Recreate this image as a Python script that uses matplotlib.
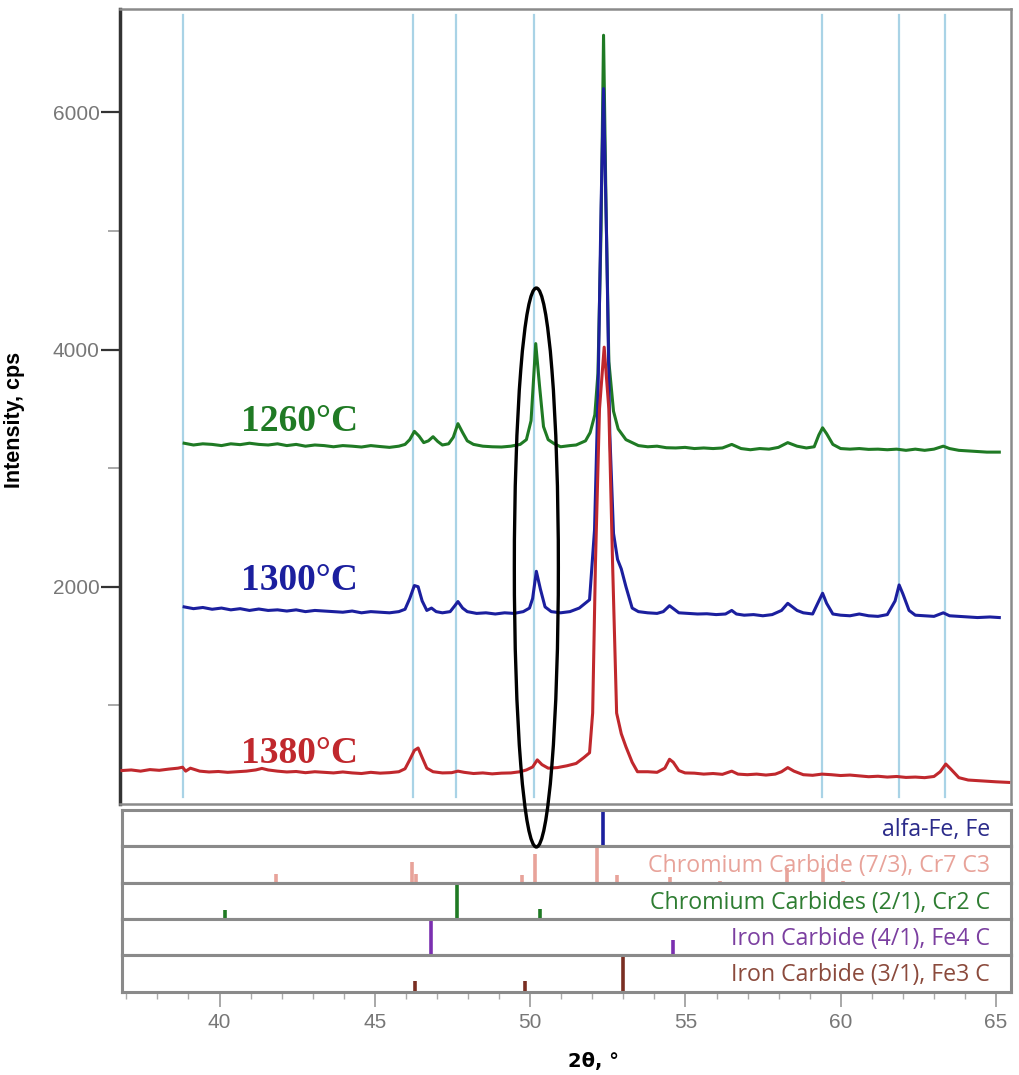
import matplotlib.pyplot as plt
from matplotlib.patches import Ellipse
from matplotlib.ticker import MultipleLocator

# --- measured XRD patterns (2theta in degrees, intensity in cps) ---
x_1260 = [38.9, 39.2, 39.5, 39.8, 40.1, 40.4, 40.7, 41.0, 41.3, 41.6, 41.9, 42.2, 42.5, 42.8,
          43.1, 43.4, 43.7, 44.0, 44.3, 44.6, 44.9, 45.2, 45.5, 45.8, 46.0, 46.15, 46.3, 46.45,
          46.6, 46.75, 46.9, 47.05, 47.2, 47.4, 47.55, 47.7, 47.85, 48.0, 48.2, 48.5, 48.8, 49.1,
          49.4, 49.7, 49.9, 50.05, 50.2, 50.32, 50.45, 50.6, 50.8, 51.0, 51.3, 51.5, 51.8, 51.95,
          52.1, 52.2, 52.3, 52.38, 52.46, 52.55, 52.7, 52.85, 53.1, 53.5, 53.8, 54.1, 54.4, 54.7,
          55.0, 55.3, 55.6, 55.9, 56.2, 56.5, 56.8, 57.1, 57.4, 57.7, 58.0, 58.3, 58.6, 58.9,
          59.15, 59.3, 59.42, 59.55, 59.75, 60.0, 60.3, 60.6, 60.9, 61.2, 61.5, 61.8, 62.1,
          62.4, 62.7, 63.0, 63.3, 63.5, 63.8, 64.1, 64.4, 64.7, 65.1]
y_1260 = [3210, 3195, 3205, 3200, 3190, 3205, 3198, 3210, 3200, 3195, 3205, 3190, 3200, 3185,
          3195, 3190, 3180, 3190, 3185, 3178, 3190, 3182, 3175, 3185, 3200, 3240, 3310, 3270,
          3215, 3230, 3265, 3225, 3195, 3205, 3260, 3375, 3300, 3230, 3200, 3185, 3180, 3178,
          3185, 3200, 3240, 3400, 4050, 3700, 3350, 3240, 3205, 3180, 3190, 3195, 3230, 3300,
          3450, 3800, 5000, 6650, 5200, 3900, 3480, 3330, 3240, 3190, 3180, 3185, 3172, 3170,
          3175, 3165, 3170, 3165, 3170, 3200, 3165, 3155, 3165, 3160, 3175, 3215, 3185, 3170,
          3180, 3280, 3340, 3290, 3200, 3165, 3160, 3165, 3158, 3160, 3155, 3160, 3150,
          3160, 3150, 3160, 3185, 3165, 3150, 3145, 3140, 3135, 3135]

x_1300 = [38.9, 39.2, 39.5, 39.8, 40.1, 40.4, 40.7, 41.0, 41.3, 41.6, 41.9, 42.2, 42.5, 42.8,
          43.1, 43.4, 43.7, 44.0, 44.3, 44.6, 44.9, 45.2, 45.5, 45.8, 46.0, 46.15, 46.3, 46.42,
          46.55, 46.7, 46.85, 47.0, 47.2, 47.45, 47.6, 47.7, 47.85, 48.0, 48.3, 48.6, 48.9, 49.2,
          49.5, 49.8, 50.0, 50.1, 50.22, 50.35, 50.5, 50.7, 51.0, 51.3, 51.6, 51.93, 52.09,
          52.2, 52.3, 52.38, 52.48, 52.58, 52.7, 52.83, 52.95, 53.1, 53.3, 53.5, 53.8, 54.1,
          54.3, 54.5, 54.65, 54.8, 55.1, 55.4, 55.7, 56.0, 56.3, 56.5, 56.65, 56.9, 57.2, 57.5,
          57.8, 58.1, 58.3, 58.45, 58.6, 58.8, 59.1, 59.3, 59.42, 59.55, 59.75, 60.0, 60.3,
          60.6, 60.9, 61.2, 61.5, 61.75, 61.88, 62.0, 62.2, 62.4, 62.7, 63.0, 63.3, 63.5, 63.8,
          64.1, 64.4, 64.8, 65.1]
y_1300 = [1830, 1815, 1825, 1810, 1820, 1805, 1815, 1800, 1812, 1800, 1805, 1795, 1805, 1790,
          1800, 1795, 1790, 1785, 1795, 1780, 1790, 1785, 1780, 1790, 1810, 1900, 2010, 2000,
          1880, 1800, 1820, 1790, 1780, 1790, 1840, 1875, 1820, 1790, 1775, 1780, 1770, 1780,
          1775, 1790, 1820, 1900, 2130, 1980, 1830, 1790, 1780, 1790, 1820, 1890, 2480,
          3600, 5200, 6200, 4900, 3300, 2450, 2230, 2150, 2000, 1820, 1790, 1780, 1775,
          1790, 1840, 1810, 1780, 1775, 1770, 1772, 1765, 1770, 1800, 1770, 1760, 1765, 1755,
          1765, 1800, 1860, 1830, 1800, 1780, 1770, 1880, 1945, 1860, 1770, 1760, 1755,
          1770, 1755, 1750, 1765, 1880, 2015, 1940, 1800, 1760, 1755, 1750, 1780, 1755, 1750,
          1745, 1740, 1745, 1740]

x_1380 = [36.9, 37.2, 37.5, 37.8, 38.1, 38.4, 38.7, 38.85, 38.95, 39.1, 39.4, 39.7, 40.0, 40.3,
          40.6, 40.9, 41.2, 41.4, 41.6, 41.9, 42.2, 42.5, 42.8, 43.1, 43.4, 43.7, 44.0, 44.3,
          44.6, 44.9, 45.2, 45.5, 45.8, 46.0, 46.15, 46.3, 46.42, 46.55, 46.7, 46.9, 47.2, 47.5,
          47.7, 47.9, 48.2, 48.5, 48.8, 49.1, 49.4, 49.7, 49.9, 50.1, 50.25, 50.4, 50.6, 50.9,
          51.2, 51.5, 51.75, 51.93, 52.03, 52.12, 52.25, 52.4, 52.55, 52.67, 52.8, 52.95, 53.1,
          53.3, 53.47, 53.8, 54.1, 54.35, 54.5, 54.62, 54.8, 55.0, 55.3, 55.6, 55.9, 56.2, 56.5,
          56.7, 57.0, 57.3, 57.6, 57.9, 58.1, 58.3, 58.5, 58.8, 59.1, 59.4, 59.7, 60.0, 60.3,
          60.6, 60.9, 61.2, 61.5, 61.8, 62.1, 62.4, 62.7, 63.0, 63.2, 63.38, 63.55, 63.8, 64.1,
          64.4, 64.7, 65.0, 65.4]
y_1380 = [450, 455, 445, 458, 452, 462, 470, 478, 445, 470, 445, 438, 442, 435,
          440, 445, 455, 468, 455, 445, 438, 442, 432, 440, 435, 430, 438, 430,
          425, 435, 428, 432, 440, 465, 540, 620, 640, 560, 470, 440, 430, 432,
          445, 435, 425, 430, 422, 428, 430, 440, 455, 480, 540, 500, 470, 475,
          490, 510, 560, 600, 935, 2200, 3500, 4020, 3500, 2200, 935, 760, 650,
          520, 440, 440, 435, 470, 545, 520, 450, 430, 428, 420, 425, 418, 445,
          420, 415, 420, 412, 420, 440, 475, 445, 415, 410, 420, 415, 408, 412,
          405, 398, 402, 395, 400, 392, 395, 390, 400, 440, 505, 460, 390, 370,
          365, 360, 355, 350]

series_labels = ['1260\u00b0C', '1300\u00b0C', '1380\u00b0C']
series_colors = ['#1f7a24', '#1b1f9e', '#c0282d']
label_y = [3389, 2056, 597]

# light blue marker lines (2theta)
marker_lines = [38.87, 46.27, 47.65, 50.16, 59.39, 61.86, 63.34]

# reference patterns: positions and relative heights
phase_names = ['alfa-Fe, Fe', 'Chromium Carbide (7/3), Cr7 C3',
               'Chromium Carbides (2/1), Cr2 C', 'Iron Carbide (4/1), Fe4 C',
               'Iron Carbide (3/1), Fe3 C']
phase_text_colors = ['#2b2b8a', '#e8a39a', '#2e7d32', '#7b3fa0', '#8b4a3c']
phase_stick_colors = ['#1b1f9e', '#e8a39a', '#1f7a24', '#7b2fb0', '#7a2e22']
phase_pos = [
    [52.36],
    [41.82, 46.2, 46.33, 49.73, 50.17, 52.14, 52.81, 54.5, 56.1, 58.28, 59.43, 60.06],
    [40.17, 47.66, 50.33],
    [46.82, 54.61],
    [46.3, 49.82, 52.98],
]
phase_h = [
    [1.0],
    [0.25, 0.58, 0.25, 0.2, 0.8, 1.0, 0.2, 0.15, 0.05, 0.4, 0.4, 0.05],
    [0.25, 1.0, 0.28],
    [1.0, 0.42],
    [0.3, 0.3, 1.0],
]

xmin, xmax = 36.85, 65.47

fig = plt.figure(figsize=(10.2, 10.75), dpi=100)

ax = fig.add_axes([0.118, 0.2521, 0.873, 0.7395])
ax.set_xlim(xmin, xmax)
ax.set_ylim(168, 6871)

for xv in marker_lines:
    ax.axvline(xv, ymin=0.009, ymax=0.992, color='#a9d3e6', lw=1.6, zorder=1)

xs = [x_1260, x_1300, x_1380]
ys = [y_1260, y_1300, y_1380]
for xd, yd, c in zip(xs, ys, series_colors):
    ax.plot(xd, yd, color=c, lw=2.2, zorder=3)

for lab, ly, c in zip(series_labels, label_y, series_colors):
    ax.text(40.73, ly, lab, color=c, fontsize=27, fontweight='bold',
            family='Liberation Serif', ha='left', va='center', zorder=4)

ax.yaxis.set_major_locator(MultipleLocator(2000))
ax.yaxis.set_minor_locator(MultipleLocator(1000))
ax.tick_params(axis='y', which='major', length=14, width=1.6, color='#333333',
               labelsize=15, labelcolor='#777777', pad=1)
ax.tick_params(axis='y', which='minor', length=9, width=1.2, color='#999999')
ax.tick_params(axis='x', which='both', bottom=False, labelbottom=False)
for yt in ax.get_yticklabels():
    yt.set_family('Liberation Sans')
ax.spines['left'].set_color('#333333')
ax.spines['left'].set_linewidth(2.5)
for s in ['top', 'right', 'bottom']:
    ax.spines[s].set_color('#8a8a8a')
    ax.spines[s].set_linewidth(1.8)

fig.text(15 / 1020, 1 - 420 / 1075, 'Intensity, cps', rotation=90, fontsize=15.5,
         fontweight='bold', family='Liberation Sans', ha='center', va='center')

# reference stick panel
row_h = 0.169 / 5
panel_top = 0.2465
for i in range(5):
    rax = fig.add_axes([0.1193, panel_top - (i + 1) * row_h, 0.8716, row_h])
    rax.set_xlim(xmin, xmax)
    rax.set_ylim(0, 1)
    rax.vlines(phase_pos[i], 0, phase_h[i], color=phase_stick_colors[i], lw=2.6)
    rax.text(64.81, 0.45, phase_names[i], color=phase_text_colors[i], fontsize=16.7,
             family='Open Sans', ha='right', va='center')
    rax.set_yticks([])
    for s in rax.spines.values():
        s.set_color('#8a8a8a')
        s.set_linewidth(2.2)
    if i < 4:
        rax.tick_params(axis='x', which='both', bottom=False, labelbottom=False)
    else:
        rax.xaxis.set_major_locator(MultipleLocator(5))
        rax.xaxis.set_minor_locator(MultipleLocator(1))
        rax.tick_params(axis='x', which='major', length=11, width=1.2, color='#999999',
                        labelsize=15, labelcolor='#777777', pad=4)
        rax.tick_params(axis='x', which='minor', length=5, width=1.0, color='#aaaaaa')
        for xt in rax.get_xticklabels():
            xt.set_family('Liberation Sans')

# highlight ellipse around the 50.2 deg peak, drawn above all axes
ell = Ellipse((50.22, 2162), width=1.415, height=4713, fill=False,
              ec='black', lw=2.4, transform=ax.transData, zorder=10)
fig.add_artist(ell)

fig.text(593 / 1020, 1 - 1062 / 1075, '2\u03b8, \u00b0', fontsize=14, fontweight='bold',
         family='DejaVu Sans', ha='center', va='center')

fig.savefig('out.png', dpi=100)
